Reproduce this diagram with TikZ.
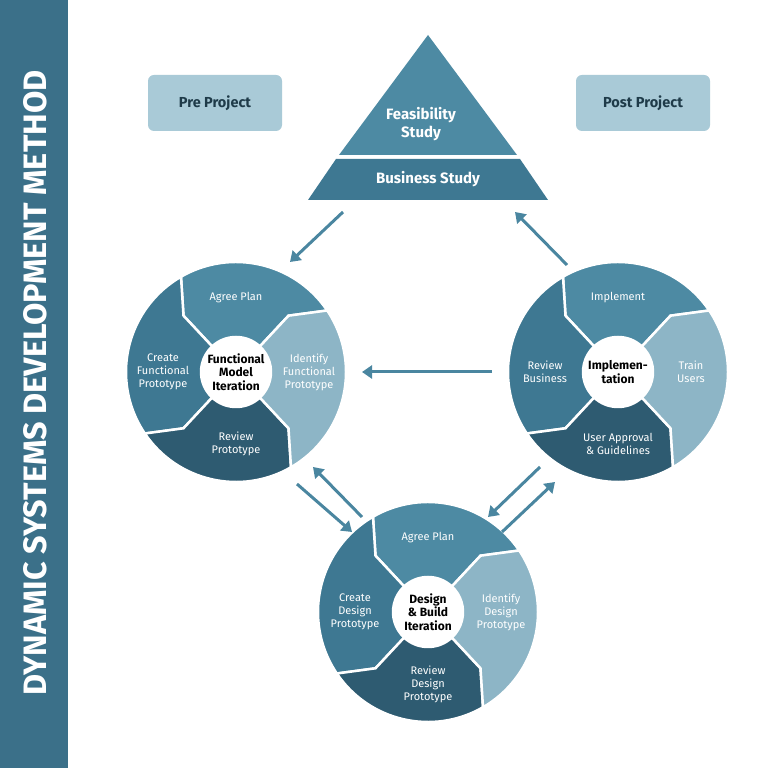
\documentclass[tikz,border=0pt]{standalone}
\usepackage{fontspec}
\setmainfont{Fira Sans}
\usetikzlibrary{arrows.meta}
\definecolor{cA}{HTML}{4D8AA3}
\definecolor{cB}{HTML}{3E7892}
\definecolor{cC}{HTML}{8DB5C6}
\definecolor{cD}{HTML}{2E5B71}
\definecolor{side}{HTML}{3B7089}
\definecolor{boxc}{HTML}{A9CAD7}
\definecolor{txt}{HTML}{1F3B49}
\definecolor{arr}{HTML}{4A86A0}
\newcommand{\myseg}[3]{\fill[#3,draw=white,line width=2.5pt] (#1:35) -- (#1:77) -- (#1-13:110) arc[start angle=#1-13,end angle=#2-13,radius=110] -- (#2:77) -- (#2:35) arc[start angle=#2,end angle=#1,radius=35] -- cycle;}
\newcommand{\mywheel}[7]{%
\begin{scope}[shift={#1}]
\myseg{47}{133}{cA}\myseg{133}{227}{cB}\myseg{227}{313}{cD}\myseg{-47}{47}{cC}
\node[lab] (#2t) at (90:74) {#4};
\node[lab] (#2l) at (180:73) {#5};
\node[lab] (#2r) at (0:73) {#6};
\node[lab] (#2b) at (-90:72) {#7};
\node[circle,fill=white,minimum size=68pt,inner sep=0pt,align=center,font=\bfseries\fontsize{12}{13.5}\selectfont,text=black] (#2) at (0,0) {#3};
\end{scope}}
\tikzset{lab/.style={text=white,align=center,font=\fontsize{11}{13}\selectfont},
 ar/.style={draw=arr,line width=3pt,-{Triangle[length=10pt,width=13pt]}},
 pbox/.style={fill=boxc,rounded corners=6pt,minimum width=134pt,minimum height=56pt,text=txt,font=\bfseries\fontsize{14.5}{17}\selectfont}}
\begin{document}
\begin{tikzpicture}[x=1pt,y=1pt]
\useasboundingbox (0,0) rectangle (768,768);
\fill[white] (0,0) rectangle (768,768);
\fill[side] (0,0) rectangle (68,768);
\node[rotate=90,text=white,inner sep=0pt] (title) at (35,385) {\resizebox{625pt}{23pt}{\bfseries DYNAMIC SYSTEMS DEVELOPMENT METHOD}};
% triangle
\fill[cA] (428,733) -- (517,613) -- (339,613) -- cycle;
\fill[cB] (336,609) -- (520,609) -- (548,568) -- (308,568) -- cycle;
\node[text=white,align=center,font=\bfseries\fontsize{15}{18}\selectfont] (feas) at (421,644) {Feasibility\\Study};
\node[text=white,font=\bfseries\fontsize{15}{18}\selectfont] (bus) at (428,589) {Business Study};
\node[pbox] (pre) at (215,665) {Pre Project};
\node[pbox] (post) at (643,665) {Post Project};
\mywheel{(236,396)}{fm}{Functional\\Model\\Iteration}{Agree Plan}{Create\\Functional\\Prototype}{Identify\\Functional\\Prototype}{Review\\Prototype}
\mywheel{(618,396)}{im}{Implemen-\\tation}{Implement}{Review\\Business}{Train\\Users}{User Approval\\\& Guidelines}
\mywheel{(428,156)}{db}{Design\\\& Build\\Iteration}{Agree Plan}{Create\\Design\\Prototype}{Identify\\Design\\Prototype}{Review\\Design\\Prototype}
\coordinate (a1) at (343,556); \coordinate (a2) at (290,506);
\coordinate (b1) at (567,503); \coordinate (b2) at (515,556);
\coordinate (c1) at (492,396); \coordinate (c2) at (362,396);
\coordinate (d1) at (297,284); \coordinate (d2) at (352,236);
\coordinate (e1) at (362,251); \coordinate (e2) at (313,301);
\coordinate (f1) at (540,301); \coordinate (f2) at (488,251);
\coordinate (g1) at (502,236); \coordinate (g2) at (555,286);
\draw[ar] (a1) -- (a2);
\draw[ar] (b1) -- (b2);
\draw[ar] (c1) -- (c2);
\draw[ar] (d1) -- (d2);
\draw[ar] (e1) -- (e2);
\draw[ar] (f1) -- (f2);
\draw[ar] (g1) -- (g2);
\end{tikzpicture}
\end{document}
